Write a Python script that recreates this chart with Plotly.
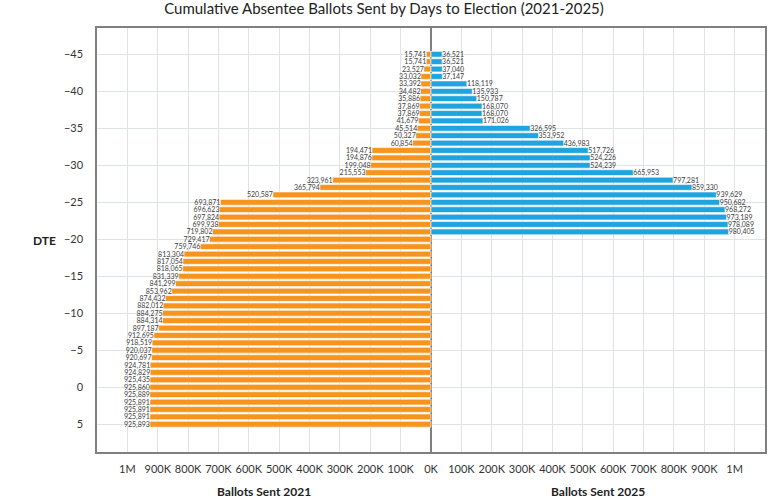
import plotly.graph_objects as go

# Days to election, -45 .. 5
dte_2021 = list(range(-45, 6))
sent_2021 = [
    15741, 15741, 23527, 33032, 33392, 34482, 35886, 37869, 37869, 41679,
    45514, 50327, 60854, 194471, 194876, 199048, 215553, 323961, 365794, 520587,
    693871, 696623, 697824, 699938, 719802, 729417, 759746, 813304, 817054, 818065,
    831339, 841299, 853962, 874432, 882012, 884275, 884314, 897187, 912695, 918519,
    920037, 920697, 924781, 924829, 925435, 925860, 925889, 925891, 925891, 925891,
    925893,
]

dte_2025 = list(range(-45, -20))
sent_2025 = [
    36521, 36521, 37040, 37147, 118119, 135933, 150787, 168070, 168070, 171026,
    326595, 353952, 436983, 517726, 524226, 524239, 665953, 797281, 859330, 939629,
    950682, 968272, 973189, 978089, 980405,
]

x_tickvals = [-1_000_000, -900_000, -800_000, -700_000, -600_000, -500_000, -400_000,
              -300_000, -200_000, -100_000, 0, 100_000, 200_000, 300_000, 400_000,
              500_000, 600_000, 700_000, 800_000, 900_000, 1_000_000]
x_ticktext = ["1M", "900K", "800K", "700K", "600K", "500K", "400K", "300K", "200K",
              "100K", "0K", "100K", "200K", "300K", "400K", "500K", "600K", "700K",
              "800K", "900K", "1M"]

ORANGE = "#F7941D"
BLUE = "#1FA4E0"
FONT = "Lato"

fig = go.Figure()

fig.add_trace(go.Bar(
    y=dte_2021,
    x=[-v for v in sent_2021],
    orientation="h",
    name="2021",
    marker=dict(color=ORANGE, line=dict(color="white", width=0.6)),
    text=[f"{v:,}" for v in sent_2021],
    textposition="outside",
    textfont=dict(size=7, color="#404040", family=FONT),
    cliponaxis=False,
    width=0.78,
))

fig.add_trace(go.Bar(
    y=dte_2025,
    x=sent_2025,
    orientation="h",
    name="2025",
    marker=dict(color=BLUE, line=dict(color="white", width=0.6)),
    text=[f"{v:,}" for v in sent_2025],
    textposition="outside",
    textfont=dict(size=7, color="#404040", family=FONT),
    cliponaxis=False,
    width=0.78,
))

fig.update_layout(
    title=dict(text="Cumulative Absentee Ballots Sent by Days to Election (2021-2025)",
               x=0.5, xanchor="center", y=0.982, yanchor="middle",
               font=dict(size=15, color="#222222", family=FONT)),
    barmode="overlay",
    showlegend=False,
    plot_bgcolor="white",
    paper_bgcolor="white",
    width=768, height=500,
    margin=dict(l=97, r=1, t=28, b=48),
    font=dict(family=FONT, size=12, color="#333333"),
    uniformtext=dict(minsize=6, mode="show"),
)

fig.update_xaxes(
    range=[-1_100_000, 1_100_000],
    tickvals=x_tickvals, ticktext=x_ticktext, tickangle=0,
    showgrid=True, gridcolor="#DDE3E6", gridwidth=1,
    zeroline=True, zerolinecolor="#7F7F7F", zerolinewidth=2,
    showline=True, linecolor="#7F7F7F", linewidth=1.5, mirror=True,
    ticks="", ticklabelstandoff=6,
    tickfont=dict(size=11, color="#333333"),
)

fig.update_yaxes(
    range=[8.75, -48.55],
    tickvals=list(range(-45, 6, 5)),
    showgrid=True, gridcolor="#DDE3E6", gridwidth=1,
    zeroline=False,
    showline=True, linecolor="#7F7F7F", linewidth=1.5, mirror=True,
    ticks="", ticklabelstandoff=10,
    tickfont=dict(size=11, color="#333333"),
)

# axis titles as annotations (horizontal DTE, split x titles)
fig.add_annotation(text="<b>DTE</b>", xref="paper", yref="paper", x=-0.079, y=0.5,
                   xanchor="center", yanchor="middle", showarrow=False,
                   font=dict(size=12, color="#222222"))
fig.add_annotation(text="<b>Ballots Sent 2021</b>", xref="paper", yref="paper",
                   x=0.25, y=-0.094, xanchor="center", yanchor="middle", showarrow=False,
                   font=dict(size=12, color="#222222"))
fig.add_annotation(text="<b>Ballots Sent 2025</b>", xref="paper", yref="paper",
                   x=0.75, y=-0.094, xanchor="center", yanchor="middle", showarrow=False,
                   font=dict(size=12, color="#222222"))

# drop the default page margin so the 768x500 figure fills the window
fig.write_html(
    "out.html",
    config={"displayModeBar": False},
    post_script="document.body.style.margin='0';document.body.style.overflow='hidden';",
)
